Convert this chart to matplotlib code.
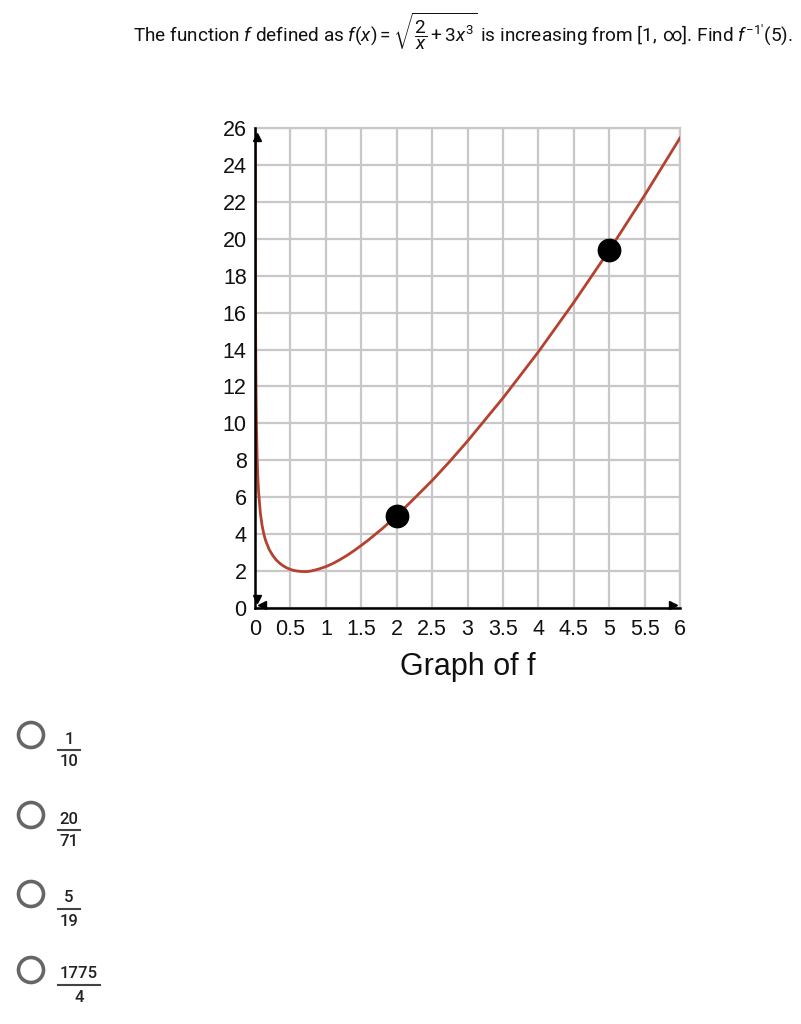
import matplotlib
matplotlib.use("Agg")
import matplotlib.pyplot as plt
from matplotlib.patches import Circle
from matplotlib.transforms import IdentityTransform

plt.rcParams["font.family"] = ["Liberation Sans", "DejaVu Sans"]
plt.rcParams["mathtext.fontset"] = "custom"
plt.rcParams["mathtext.rm"] = "Roboto"
plt.rcParams["mathtext.it"] = "Roboto:italic"
plt.rcParams["mathtext.bf"] = "Roboto:bold"

# ---------------------------------------------------------------------------
# Data
# ---------------------------------------------------------------------------
curve_x = [0.0025, 0.003, 0.004, 0.006, 0.008, 0.01, 0.015, 0.02, 0.03, 0.04,
           0.05, 0.075, 0.1, 0.125, 0.15, 0.2, 0.25, 0.3, 0.35, 0.4, 0.45,
           0.5, 0.55, 0.6, 0.65, 0.7, 0.75, 0.8, 0.9, 1.0, 1.1, 1.2, 1.3,
           1.4, 1.5, 1.6, 1.8, 2.0, 2.25, 2.5, 2.75, 3.0, 3.5, 4.0, 4.5, 5.0,
           5.5, 6.0]
curve_y = [28.3, 25.8, 22.36, 18.26, 15.81, 14.14, 11.55, 10.0, 8.16, 7.07,
           6.32, 5.16, 4.47, 4.00, 3.65, 3.17, 2.85, 2.60, 2.42, 2.28, 2.17,
           2.09, 2.03, 2.00, 1.98, 1.97, 1.98, 2.01, 2.11, 2.24, 2.41, 2.62,
           2.85, 3.11, 3.39, 3.68, 4.31, 5.0, 5.94, 6.90, 7.94, 9.04, 11.37,
           13.87, 16.55, 19.37, 22.35, 25.46]

point_x = [2, 5]
point_y = [5, 19.37]

x_ticks = [0, 0.5, 1, 1.5, 2, 2.5, 3, 3.5, 4, 4.5, 5, 5.5, 6]
x_tick_labels = ["0", "0.5", "1", "1.5", "2", "2.5", "3", "3.5", "4", "4.5",
                 "5", "5.5", "6"]
y_ticks = list(range(0, 27, 2))

answers = [("1", "10"), ("20", "71"), ("5", "19"), ("1775", "4")]
answer_y = [735, 815, 894, 970]   # pixel rows of the radio buttons

W, H = 801, 1024
fig = plt.figure(figsize=(W / 100, H / 100), dpi=100)

# ---------------------------------------------------------------------------
# Question text
# ---------------------------------------------------------------------------
fig.text(133 / W, 1 - 31 / H,
         r"The function $f$ defined as $f(x)=\sqrt{\dfrac{2}{x}+3x^3}$ "
         r"is increasing from $[1,\,\infty]$. Find $f^{-1\prime}(5)$.",
         fontsize=13.7, va="center", ha="left", color="#111111",
         family="Roboto")

# ---------------------------------------------------------------------------
# Graph
# ---------------------------------------------------------------------------
ax = fig.add_axes([255 / W, 1 - 608 / H, 425 / W, 480 / H])
ax.set_xlim(0, 6)
ax.set_ylim(0, 26)
ax.set_xticks(x_ticks)
ax.set_xticklabels(x_tick_labels)
ax.set_yticks(y_ticks)
ax.grid(True, color="#c8c8c8", linewidth=1.6)
ax.set_axisbelow(True)
ax.tick_params(length=0, labelsize=15.5, colors="#111111")
ax.tick_params(axis="x", pad=8)
ax.tick_params(axis="y", pad=6)
for side in ("top", "right"):
    ax.spines[side].set_color("#c8c8c8")
    ax.spines[side].set_linewidth(1.6)
for side in ("left", "bottom"):
    ax.spines[side].set_color("black")
    ax.spines[side].set_linewidth(1.8)
    ax.spines[side].set_zorder(5)

ax.plot(curve_x, curve_y, color="#b5412f", linewidth=2, zorder=4)
ax.scatter(point_x, point_y, s=260, color="black", zorder=6)

# arrowheads on the axes
x0, x1 = ax.get_xlim()
y0, y1 = ax.get_ylim()
ax.plot([x0 + 0.03], [y1 - 0.5], marker="^", color="black", markersize=6,
        clip_on=False, zorder=7)
ax.plot([x1 - 0.1], [y0 + 0.15], marker=">", color="black", markersize=6,
        clip_on=False, zorder=7)
ax.plot([x0 + 0.03], [y0 + 0.5], marker="v", color="black", markersize=6,
        clip_on=False, zorder=7)
ax.plot([x0 + 0.1], [y0 + 0.15], marker="<", color="black", markersize=6,
        clip_on=False, zorder=7)

fig.text(468 / W, 1 - 667 / H, "Graph of f", fontsize=22, ha="center",
         va="center", color="#111111")

# ---------------------------------------------------------------------------
# Answer choices
# ---------------------------------------------------------------------------
for (num, den), py in zip(answers, answer_y):
    fig.add_artist(Circle((31, H - py), 12.5, transform=IdentityTransform(),
                          fill=False, edgecolor="#666666", linewidth=2.6))
    bar_w = 2 + 10 * max(len(num), len(den))
    cx = 58 + bar_w / 2
    fig.text(cx / W, 1 - (py + 4) / H, num, fontsize=12, ha="center",
             va="center", color="#222222", family="Roboto", weight="medium")
    fig.text(cx / W, 1 - (py + 27) / H, den, fontsize=12, ha="center",
             va="center", color="#222222", family="Roboto", weight="medium")
    fig.add_artist(plt.Line2D([58 / W, (58 + bar_w) / W],
                              [1 - (py + 15) / H] * 2, color="#444444",
                              linewidth=1.5))

fig.savefig("out.png", dpi=100)
